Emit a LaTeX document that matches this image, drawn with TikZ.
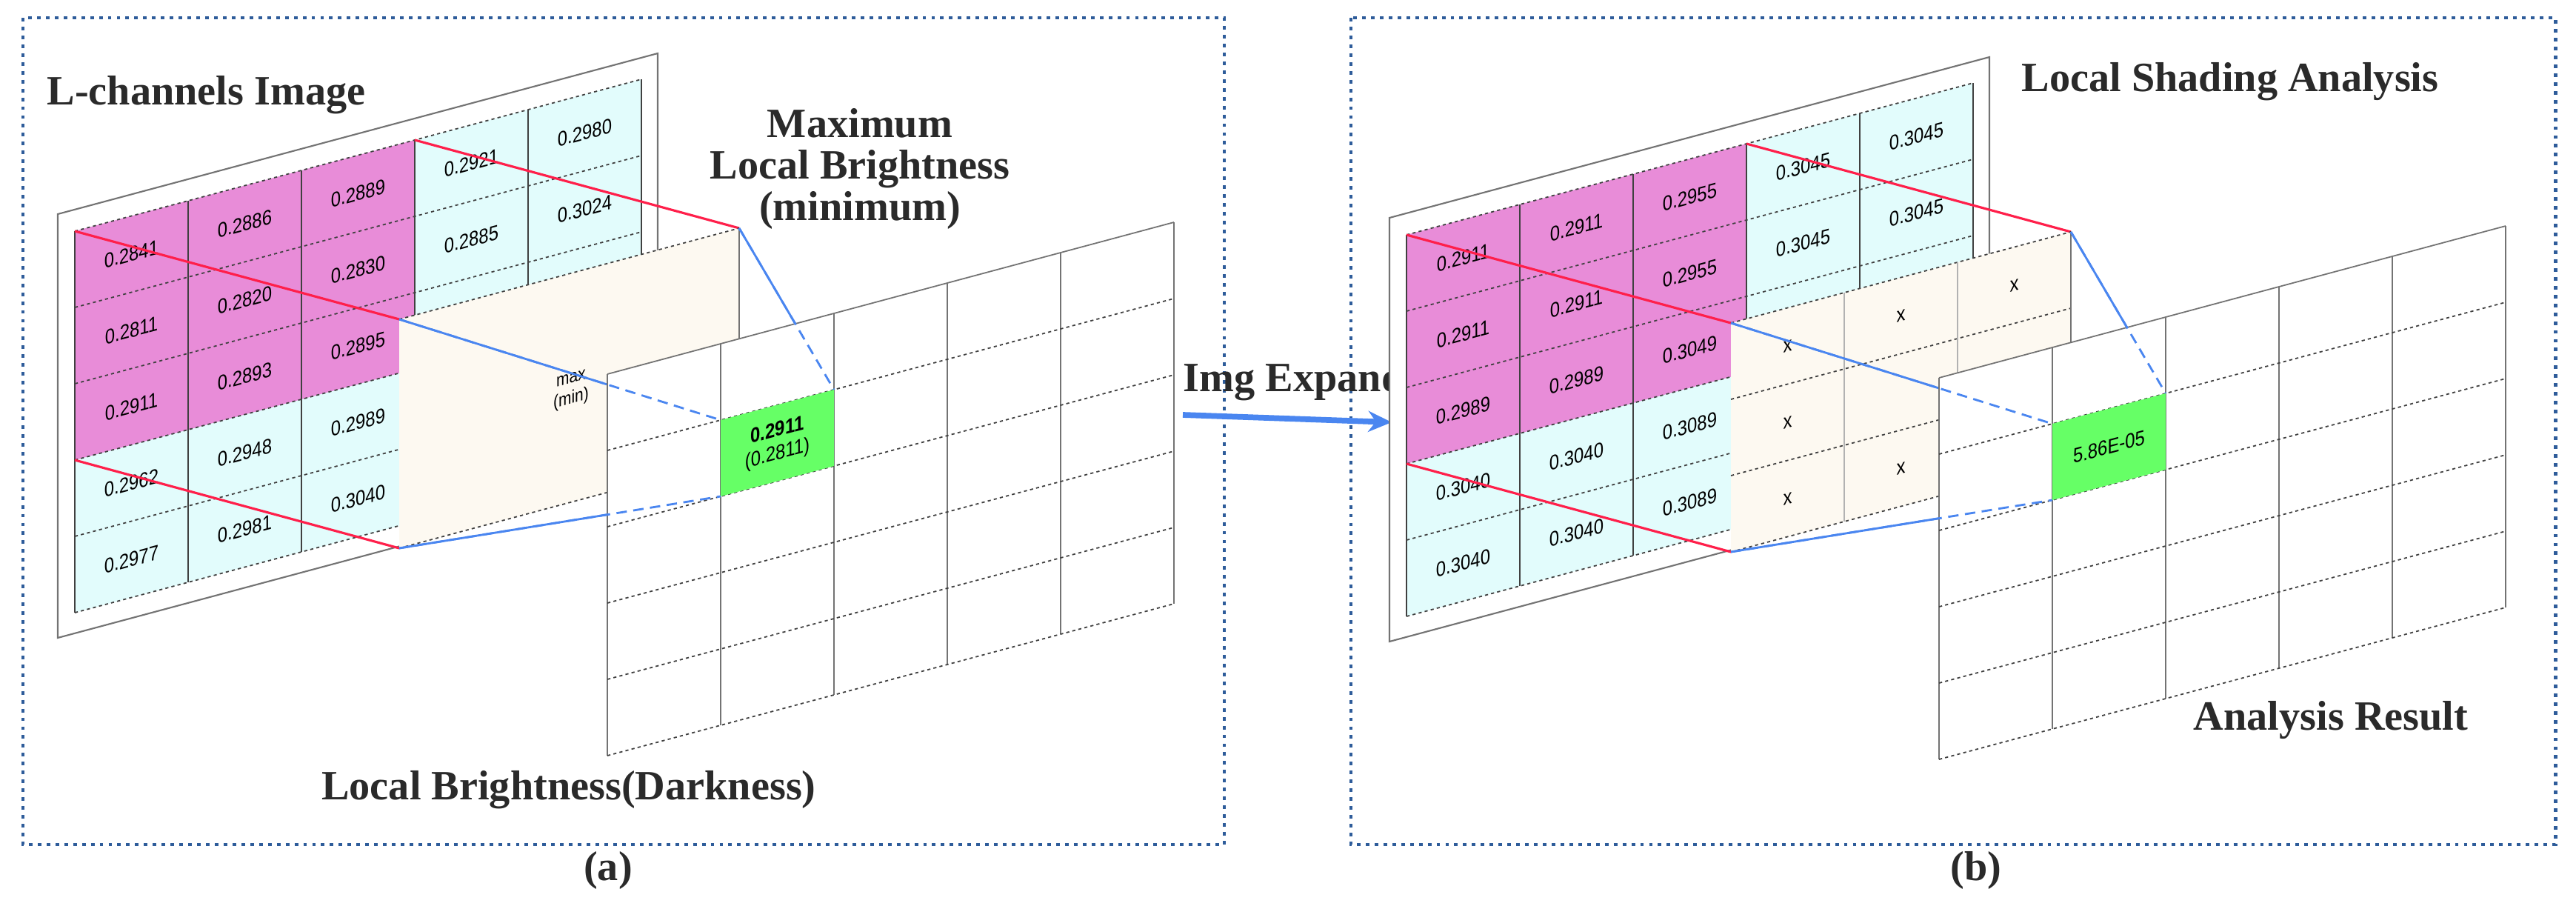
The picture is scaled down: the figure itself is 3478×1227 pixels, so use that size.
\documentclass[tikz,border=0pt]{standalone}
\usepackage{fontspec}
\setmainfont{Liberation Serif}
\setsansfont{Liberation Sans}
\usetikzlibrary{arrows.meta}
\definecolor{mag}{HTML}{E88CD8}
\definecolor{cyanc}{HTML}{E2FCFC}
\definecolor{cream}{HTML}{FDF9F1}
\definecolor{grn}{HTML}{66FF66}
\definecolor{redl}{HTML}{FF1F4A}
\definecolor{bluel}{HTML}{4A86F0}
\definecolor{framec}{HTML}{2E5C9A}
\definecolor{txt}{HTML}{2A2A2A}
\tikzset{
 frm/.style={draw=framec,line width=1.4pt,dotted},
 ttl/.style={font=\bfseries\fontsize{16}{16}\selectfont,text=txt,align=center,inner sep=0},
 cellt/.style={font=\sffamily\fontsize{8}{9}\selectfont,yslant=0.268,xscale=0.85,transform shape,inner sep=0,align=center},
 colline/.style={draw=black!75,line width=0.4pt},
 rowline/.style={draw=black!75,line width=0.5pt,dash pattern=on 1.2pt off 1.2pt},
 plane/.style={draw=black!55,line width=0.6pt,fill=white},
 redln/.style={draw=redl,line width=0.9pt},
 blueln/.style={draw=bluel,line width=0.8pt},
 bluedash/.style={draw=bluel,line width=0.8pt,dash pattern=on 4pt off 2.5pt},
}
\newcommand\mkgeom[1]{%
 \foreach \i in {0,...,5}{\foreach \j in {0,...,5}{%
   \coordinate (#1b\i\j) at ({101+153*\i},{312+103*\j-41*\i});
   \coordinate (#1f\i\j) at ({820+153*\i},{505+103*\j-41*\i});
   \coordinate (#1c\i\j) at ({539+153*\i},{431+103*\j-41*\i});
 }}%
 \coordinate (#1p0) at (78,289); \coordinate (#1p1) at (888,72);
 \coordinate (#1p2) at (888,644); \coordinate (#1p3) at (78,861);
}
\newcommand\backgrid[1]{%
 \draw[plane] (#1p0)--(#1p1)--(#1p2)--(#1p3)--cycle;
 \fill[cyanc] (#1b00)--(#1b50)--(#1b55)--(#1b05)--cycle;
 \fill[mag] (#1b00)--(#1b30)--(#1b33)--(#1b03)--cycle;
 \foreach \i in {0,...,5}{\draw[colline] (#1b\i0)--(#1b\i5);}
 \foreach \j in {0,...,5}{\draw[rowline] (#1b0\j)--(#1b5\j);}
}
\newcommand\frontgrid[1]{%
 \fill[white] (#1f00)--(#1f50)--(#1f55)--(#1f05)--cycle;
 \foreach \i in {0,...,5}{\draw[colline,draw=black!55] (#1f\i0)--(#1f\i5);}
 \foreach \j in {1,...,5}{\draw[rowline] (#1f0\j)--(#1f5\j);}
 \draw[draw=black!55,line width=0.5pt] (#1f00)--(#1f50);
}
\begin{document}
\begin{tikzpicture}[x=0.01cm,y=-0.01cm]
\useasboundingbox (0,0) rectangle (3478,1227);
% panel frames
\draw[frm] (31,24) rectangle (1653,1140);
\draw[frm] (1824,24) rectangle (3450,1140);
\node[ttl] (capa) at (821,1175) {(a)};
\node[ttl] (capb) at (2668,1175) {(b)};
% ================= LEFT PANEL
\begin{scope}
\mkgeom{L}
\backgrid{L}
\foreach \i/\j/\v [count=\n] in {0/0/0.2841,1/0/0.2886,2/0/0.2889,3/0/0.2921,4/0/0.2980,
 0/1/0.2811,1/1/0.2820,2/1/0.2830,3/1/0.2885,4/1/0.3024,
 0/2/0.2911,1/2/0.2893,2/2/0.2895,0/3/0.2962,1/3/0.2948,2/3/0.2989,
 0/4/0.2977,1/4/0.2981,2/4/0.3040}
 {\node[cellt] (Lv\n) at ({101+153*(\i+0.5)},{312+103*(\j+0.5)-41*(\i+0.5)}) {\v};}
\draw[redln] (Lb00)--(Lc00); \draw[redln] (Lb30)--(Lc30); \draw[redln] (Lb03)--(Lc03);
\fill[cream] (Lc00)--(Lc30)--(Lc33)--(Lc03)--cycle;
\draw[rowline] (Lc00)--(Lc30); \draw[rowline] (Lc03)--(Lc33);
\draw[colline,draw=black!55] (Lc30)--(Lc33);
\node[cellt,font=\sffamily\fontsize{7}{8}\selectfont] (Lmax) at (771,527) {max\\(min)};
\draw[blueln] (Lc00)--(Lf11); \draw[blueln] (Lc03)--(Lf12); \draw[blueln] (Lc30)--(Lf21);
\frontgrid{L}
\draw[bluedash] (Lc00)--(Lf11); \draw[bluedash] (Lc03)--(Lf12); \draw[bluedash] (Lc30)--(Lf21);
\fill[grn] (Lf11)--(Lf21)--(Lf22)--(Lf12)--cycle;
\node[cellt] (Lres) at ({820+153*1.5},{505+103*1.5-41*1.5}) {\textbf{0.2911}\\(0.2811)};
\node[ttl,anchor=west] (Ltitle) at (63,128) {L-channels Image};
\node[ttl] (Lmaxt) at (1161,228) {Maximum\\Local Brightness\\(minimum)};
\node[ttl] (Lbot) at (768,1066) {Local Brightness(Darkness)};
\end{scope}
% arrow
\coordinate (arrS) at (1597,560);
\coordinate (arrE) at (1879,570);
\draw[bluel,line width=2.2pt,-{Stealth[length=9pt,width=8pt]}] (arrS)--(arrE);
\node[ttl,anchor=west] (imgexp) at (1597,515) {Img Expand};
% ================= RIGHT PANEL
\begin{scope}[shift={(1798,5)}]
\mkgeom{R}
\backgrid{R}
\foreach \i/\j/\v [count=\n] in {0/0/0.2911,1/0/0.2911,2/0/0.2955,3/0/0.3045,4/0/0.3045,
 0/1/0.2911,1/1/0.2911,2/1/0.2955,3/1/0.3045,4/1/0.3045,
 0/2/0.2989,1/2/0.2989,2/2/0.3049,0/3/0.3040,1/3/0.3040,2/3/0.3089,
 0/4/0.3040,1/4/0.3040,2/4/0.3089}
 {\node[cellt] (Rv\n) at ({101+153*(\i+0.5)},{312+103*(\j+0.5)-41*(\i+0.5)}) {\v};}
\draw[redln] (Rb00)--(Rc00); \draw[redln] (Rb30)--(Rc30); \draw[redln] (Rb03)--(Rc03);
\fill[cream] (Rc00)--(Rc30)--(Rc33)--(Rc03)--cycle;
\foreach \j in {0,...,3}{\draw[rowline] (Rc0\j)--(Rc3\j);}
\foreach \i in {1,2}{\draw[colline,draw=black!30] (Rc\i0)--(Rc\i3);}
\draw[colline,draw=black!55] (Rc30)--(Rc33);
\foreach \i/\j [count=\n] in {0/0,1/0,2/0,0/1,0/2,1/2}
 {\node[cellt] (Rx\n) at ({539+153*(\i+0.5)},{431+103*(\j+0.5)-41*(\i+0.5)}) {x};}
\draw[blueln] (Rc00)--(Rf11); \draw[blueln] (Rc03)--(Rf12); \draw[blueln] (Rc30)--(Rf21);
\frontgrid{R}
\draw[bluedash] (Rc00)--(Rf11); \draw[bluedash] (Rc03)--(Rf12); \draw[bluedash] (Rc30)--(Rf21);
\fill[grn] (Rf11)--(Rf21)--(Rf22)--(Rf12)--cycle;
\node[cellt] (Rres) at ({820+153*1.5},{505+103*1.5-41*1.5}) {5.86E-05};
\end{scope}
\node[ttl] (Rtitle) at (3011,110) {Local Shading Analysis};
\node[ttl] (Rbot) at (3147,972) {Analysis Result};
\end{tikzpicture}
\end{document}
